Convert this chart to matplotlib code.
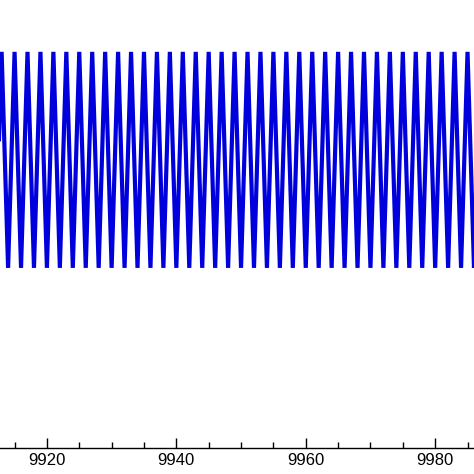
import matplotlib
matplotlib.use("Agg")
import matplotlib.pyplot as plt
from matplotlib.ticker import MultipleLocator

# zigzag samples: peaks at odd steps, troughs at even steps
steps = list(range(9910, 9992))
values = [1 if s % 2 else -1 for s in steps]

fig = plt.figure(figsize=(4.74, 4.74), dpi=100)
ax = fig.add_axes([0, 0.055, 1, 0.945])
ax.plot(steps, values, color="#0000dd", lw=3.0, solid_joinstyle="miter")
ax.set_xlim(9912.75, 9986.0)
ax.set_ylim(-2.667, 1.48)

for s in ["top", "right", "left"]:
    ax.spines[s].set_visible(False)
ax.spines["bottom"].set_linewidth(1.0)
ax.set_yticks([])
ax.xaxis.set_major_locator(MultipleLocator(20))
ax.xaxis.set_minor_locator(MultipleLocator(5))
ax.tick_params(axis="x", which="major", direction="in", length=7, width=1,
               labelsize=12, pad=4)
ax.tick_params(axis="x", which="minor", direction="in", length=4, width=1)
for lab in ax.get_xticklabels():
    lab.set_family("Liberation Sans")

fig.savefig("out.png", dpi=100)
